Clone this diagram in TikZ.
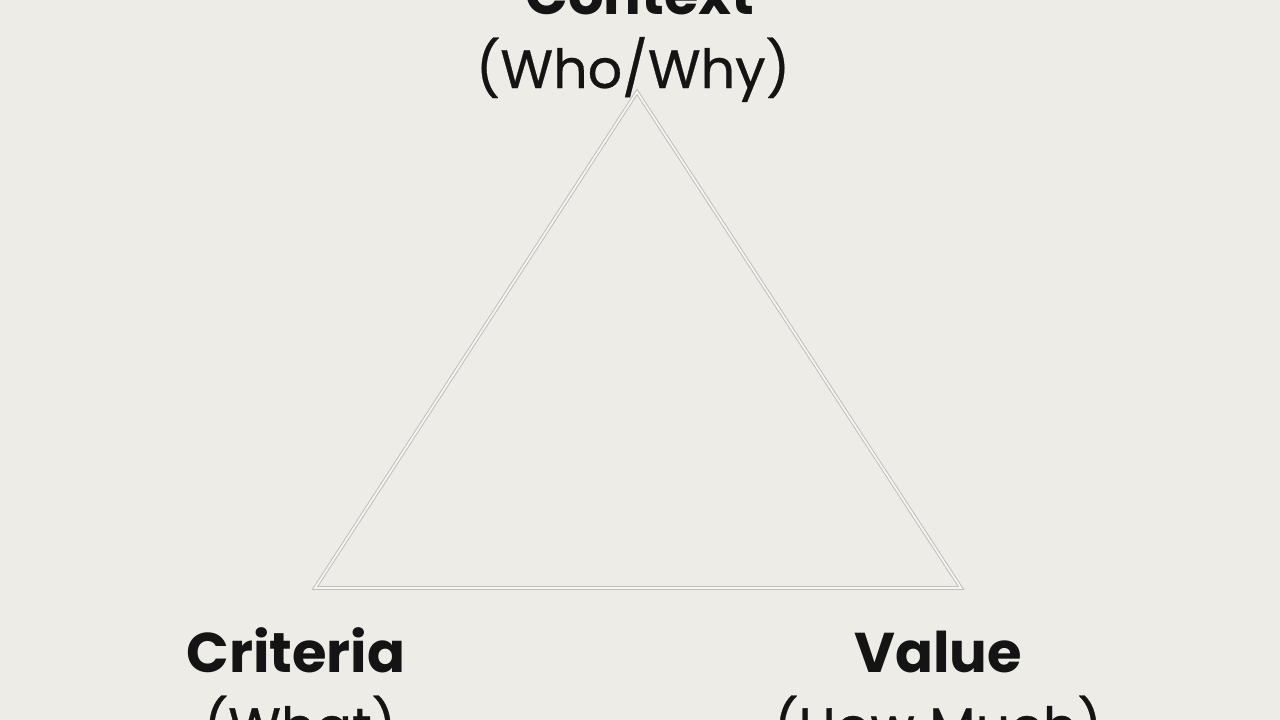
\documentclass[tikz,border=0pt]{standalone}
\usepackage{fontspec}
\setmainfont{Poppins}
\newfontfamily\subfont{Poppins}[FakeBold=0.5]
\definecolor{bg}{HTML}{EEECE7}
\definecolor{edge}{HTML}{BFBFBD}
\definecolor{ink}{HTML}{141414}
\tikzset{
  title/.style={anchor=base, inner sep=0pt, text=ink, font=\fontsize{56}{60}\selectfont\bfseries},
  sub/.style={anchor=base, inner sep=0pt, text=ink, font=\subfont\fontsize{54}{60}\selectfont},
  tri/.style={draw=edge, line width=1pt, double=bg!50!white, double distance=1.8pt, line join=miter}
}
\begin{document}
\begin{tikzpicture}[x=1pt,y=-1pt]
\useasboundingbox (0,0) rectangle (1280,720);
\fill[bg] (0,0) rectangle (1280,720);
\coordinate (T) at (637,92);
\coordinate (L) at (315,588);
\coordinate (R) at (961,588);
\draw[tri] (T) -- (L) -- (R) -- cycle;
\node[title] (ctx) at (640,14) {Context};
\node[sub] (ctxs) at (633,88) {(Who/Why)};
\node[title] (crit) at (296,672) {Criteria};
\node[sub] (crits) at (300,746) {(What)};
\node[title] (val) at (938,672) {Value};
\node[sub] (vals) at (938,746) {(How Much)};
\end{tikzpicture}
\end{document}
